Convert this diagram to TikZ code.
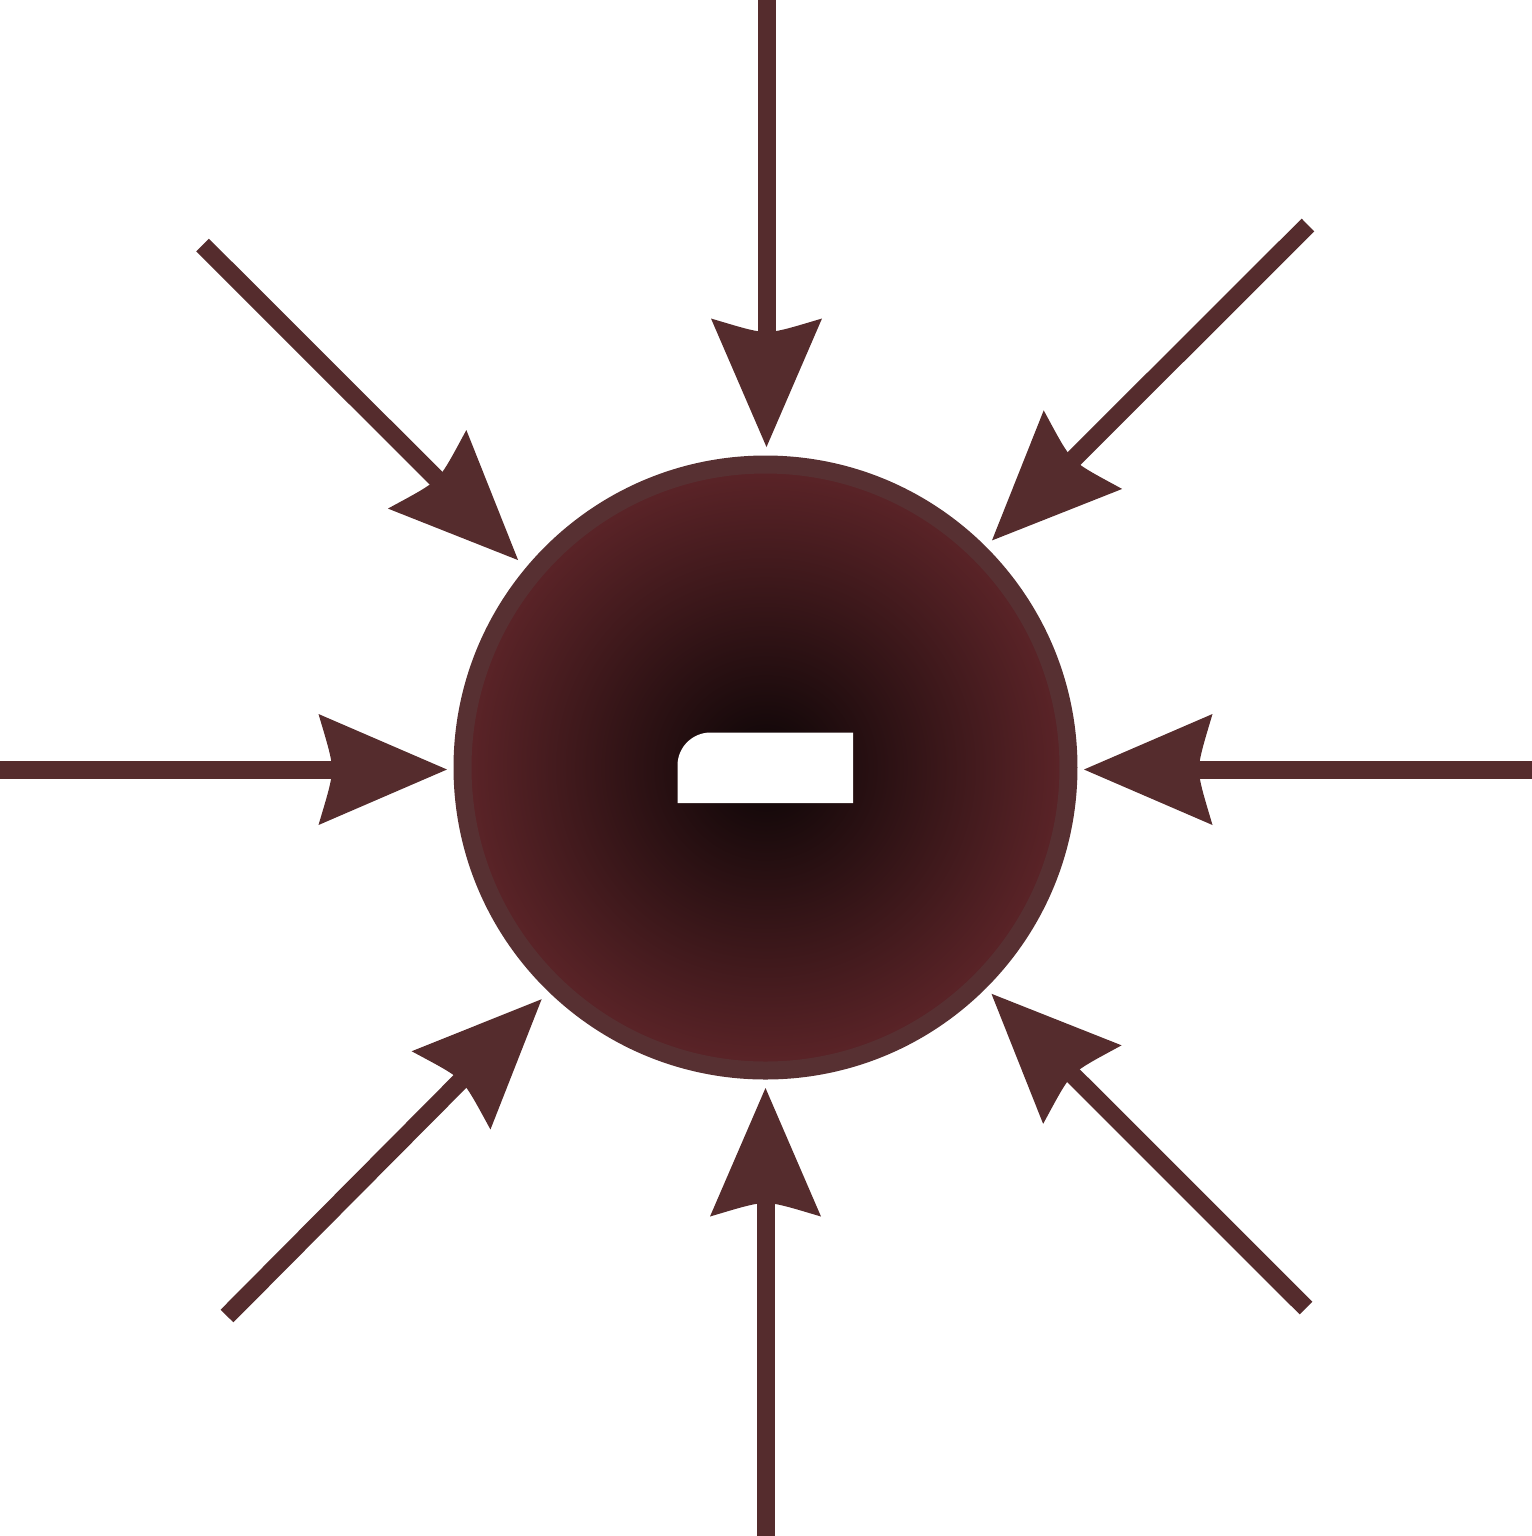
\documentclass[tikz,border=0pt]{standalone}
\usepackage{tikz}
\usetikzlibrary{decorations.markings}
\definecolor{fieldcol}{RGB}{85,44,45}
\definecolor{rimcol}{RGB}{87,48,50}
\definecolor{coreedge}{RGB}{92,36,40}
\definecolor{corecentre}{RGB}{12,5,6}

\begin{document}
\begin{tikzpicture}[x=0.1mm,y=-0.1mm,
  fieldline/.style={line width=1.8mm, fieldcol, shorten >=5mm,
    decoration={markings,
      mark=at position 1 with {\fill[fieldcol,shorten >=0pt] (0,0)
        -- (-128.5,55.5) .. controls (-121,30) and (-115,12) .. (-115,0)
        .. controls (-115,-12) and (-121,-30) .. (-128.5,-55.5) -- cycle;}},
    postaction={decorate}},
  charge/.style={circle, draw=rimcol, line width=1.8mm, inner sep=0pt,
    minimum size=60.6mm, inner color=corecentre, outer color=coreedge}]
  \useasboundingbox (0,0) rectangle (1532,1536);
  %
  % Charge
  \node[charge] (ion) at (765.5,767.5) {};
  %
  % Minus sign
  \fill[white] (677.5,803) -- (677.5,765.5)
    arc[start angle=180, end angle=270, radius=33]
    -- (853,732.5) -- (853,803) -- cycle;
  %
  % Field lines
  \foreach \name/\sx/\sy/\tx/\ty in {n/766.5/0/766.5/447,
      ne/1308/225/991.7/540.7, e/1532/769.5/1084/769.5,
      se/1306/1308/990.7/993, s/765.5/1536/765.5/1088,
      sw/227/1316/542.5/998.3, w/0/769.5/447/769.5,
      nw/202.5/245/518.5/560.5}
  {
    \coordinate (\name start) at (\sx,\sy);
    \coordinate (\name tip) at (\tx,\ty);
    \draw[fieldline] (\name start) -- (\name tip);
  }
  %
\end{tikzpicture}
\end{document}
